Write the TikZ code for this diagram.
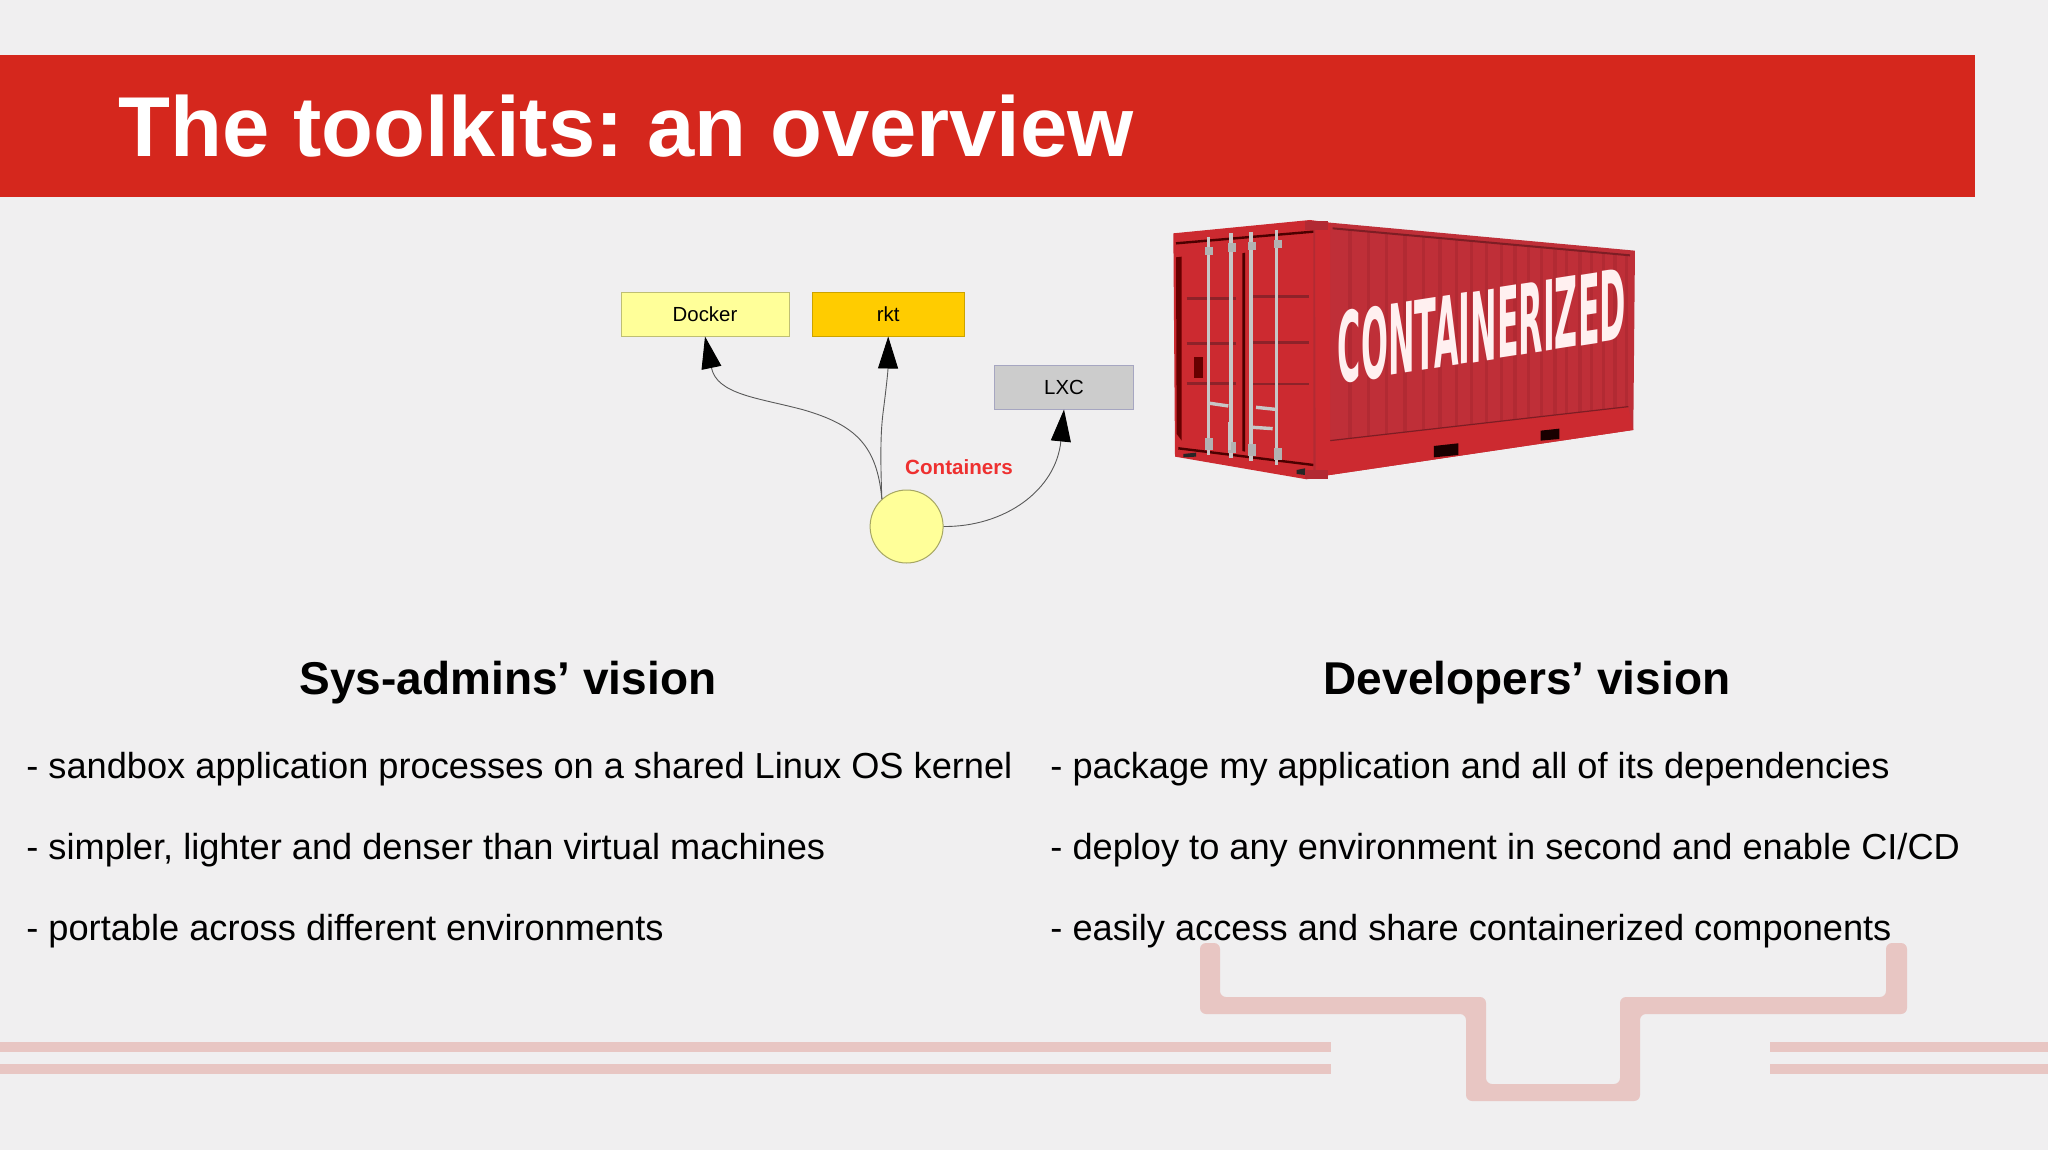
\documentclass[tikz,border=0pt]{standalone}
\usepackage{fontspec}
\setmainfont{Liberation Sans}
\usetikzlibrary{arrows.meta,positioning,shapes.geometric}
\definecolor{slidebg}{HTML}{F0EFF0}
\definecolor{banner}{HTML}{D5271D}
\definecolor{decor}{HTML}{E8C6C3}
\definecolor{boxyellow}{HTML}{FFFF99}
\definecolor{boxorange}{HTML}{FFCC00}
\definecolor{boxgrey}{HTML}{CCCCCC}
\definecolor{hubred}{HTML}{EE3030}
\definecolor{sidered}{HTML}{BF2F38}
\definecolor{frontred}{HTML}{CC2A30}
\definecolor{ribred}{HTML}{B22A33}
\tikzset{
	sysbox/.style={draw=#1, line width=0.5pt, inner sep=0pt, minimum height=22pt, font=\fontsize{10.2}{12}\selectfont},
	linkline/.style={draw=black!65, line width=0.45pt, -{Triangle[length=16pt,width=10pt,color=black]}},
	headline/.style={font=\fontsize{23}{27}\bfseries\selectfont, anchor=base},
	bulletline/.style={font=\fontsize{18.1}{21}\selectfont, anchor=base west, inner sep=0pt},
	rod/.style={draw=black!22, line width=1.7pt},
	rodclamp/.style={draw=black!30, line width=4pt},
	slot/.style={fill=black!90!red, draw=none},
}
\begin{document}
\begin{tikzpicture}[x=0.5pt, y=-0.5pt]
	\useasboundingbox (0,0) rectangle (2048,1150);
	\fill[slidebg] (0,0) rectangle (2048,1150);
	% top banner
	\fill[banner] (0,55) rectangle (1975,197);
	\node[font=\fontsize{42.5}{50}\bfseries\selectfont\frenchspacing, text=white, anchor=base west, inner sep=0pt] (title) at (118,157) {The toolkits: an overview};
	% footer lines
	\fill[decor] (0,1042) rectangle (1331,1052);
	\fill[decor] (0,1064) rectangle (1331,1074);
	\fill[decor] (1770,1042) rectangle (2048,1052);
	\fill[decor] (1770,1064) rectangle (2048,1074);
	\fill[decor, rounded corners=3pt] (1200,943) -- (1200,1014) -- (1466,1014) -- (1466,1101) -- (1640,1101) -- (1640,1014) -- (1907,1014) -- (1907,943) -- (1886,943) -- (1886,997) -- (1620,997) -- (1620,1084) -- (1486,1084) -- (1486,997) -- (1220,997) -- (1220,943) -- cycle;
	% diagram
	\node[sysbox=boxyellow!75!black, fill=boxyellow, minimum width=84pt] (docker) at (705,314) {Docker};
	\node[sysbox=boxorange!80!black, fill=boxorange, minimum width=76.2pt, right=11pt of docker] (rkt) {rkt};
	\node[sysbox=blue!30!black!35, fill=boxgrey, minimum width=69.6pt] (lxc) at (1064,387) {LXC};
	\node[circle, draw=boxyellow!65!black, line width=0.5pt, fill=boxyellow, inner sep=0pt, minimum size=36.5pt] (hub) at (906.6,526.5) {};
	\node[text=hubred, font=\fontsize{10.3}{13}\bfseries\selectfont] (hublabel) at (959,467) {Containers};
	\draw[linkline] (hub.132) .. controls (877,445) and (855,425) .. (804,410) .. controls (760,398) and (717,395) .. (docker.south);
	\draw[linkline] (hub.132) .. controls (880,450) and (881,430) .. (883,413) .. controls (885,398) and (888,372) .. (rkt.south);
	\draw[linkline] (hub.east) .. controls (1005,527) and (1056,490) .. (lxc.south);
	% container picture
	\begin{scope}[shift={(1150,200)}, scale=0.3333]
		\fill[sidered] (540,68) -- (1455,152) -- (1450,690) -- (540,825) -- cycle;
		\foreach \rx in {600,655,710,765,820,870,920,965,1010,1055,1095,1135,1175,1215,1250,1290,1325,1360,1395,1430} {
			\pgfmathsetmacro{\ytop}{83+(\rx-540)*0.092}
			\pgfmathsetmacro{\ybot}{722-(\rx-540)*0.114}
			\draw[ribred, line width=1.7pt] (\rx,\ytop) -- (\rx,\ybot);
		}
		\draw[ribred!70!black, line width=1pt] (548,85) -- (1440,166);
		\fill[frontred] (540,722) -- (1435,620) -- (1450,690) -- (540,825) -- cycle;
		\draw[ribred!70!black, line width=0.6pt] (540,722) -- (1435,620);
		\fill[slot] (852,738) -- (925,730) -- (925,765) -- (852,772) -- cycle;
		\fill[slot] (1172,692) -- (1228,686) -- (1228,717) -- (1172,722) -- cycle;
		\fill[frontred] (70,100) -- (480,60) -- (540,68) -- (540,825) -- (470,838) -- (75,770) -- cycle;
		\fill[ribred] (495,85) -- (497,810) -- (490,810) -- (490,88) -- cycle;
		\draw[black!70!red, line width=1.2pt] (78,130) -- (490,95);
		\draw[black!70!red, line width=1.2pt] (85,745) -- (490,795);
		\fill[black!60!red] (78,172) -- (95,170) -- (95,722) -- (80,702) -- cycle;
		\fill[black!70!red] (277,160) -- (285,158) -- (285,755) -- (277,753) -- cycle;
		\foreach \ya/\yb in {295/290,430/428,550/552} {
			\draw[ribred!80!black, line width=1.2pt] (110,\ya) -- (258,\ya);
			\draw[ribred!80!black, line width=1.2pt] (310,\yb) -- (478,\yb);
		}
		\fill[black!60!red] (133,470) rectangle (160,535);
		\foreach \rx/\ya/\yb in {175/110/765,243/100/775,303/95/782,380/90/795} {
			\draw[rod] (\rx,\ya) -- (\rx,\yb);
			\draw[rodclamp] (\rx+3,\ya+30) -- (\rx+3,\ya+55);
			\draw[rodclamp] (\rx+3,\yb-50) -- (\rx+3,\yb-15);
		}
		\draw[rod] (180,610) -- (235,618);
		\draw[rod] (318,622) -- (375,628);
		\draw[rod] (308,682) -- (368,686);
		\draw[rod] (238,665) -- (238,750);
		\fill[black!85] (100,762) -- (138,758) -- (138,770) -- (100,772) -- cycle;
		\fill[black!85] (440,810) -- (465,805) -- (465,825) -- (440,822) -- cycle;
		\fill[ribred] (465,62) rectangle (535,90);
		\fill[ribred] (465,810) rectangle (535,838);
	\end{scope}
	\begin{scope}[shift={(1482,326)}, cm={1,0.156,0,1,(0,0)}]
		\node[inner sep=0pt, text=red!6!white, transform shape, font=\fontspec{DejaVu Sans}] (stencil) at (0,0) {\resizebox{144pt}{36pt}{\bfseries CONTAINERIZED}};
	\end{scope}
	% two columns of text
	\node[headline] (sysadmins) at (508,694) {Sys-admins’ vision};
	\node[headline] (developers) at (1527,694) {Developers’ vision};
	\node[bulletline] (sysa) at (26,778) {- sandbox application processes on a shared Linux OS kernel};
	\node[bulletline, below=40.5pt of sysa.base west, anchor=base west] (sysb) {- simpler, lighter and denser than virtual machines};
	\node[bulletline, below=40.5pt of sysb.base west, anchor=base west] (sysc) {- portable across different environments};
	\node[bulletline] (deva) at (1050,778) {- package my application and all of its dependencies};
	\node[bulletline, below=40.5pt of deva.base west, anchor=base west] (devb) {- deploy to any environment in second and enable CI/CD};
	\node[bulletline, below=40.5pt of devb.base west, anchor=base west] (devc) {- easily access and share containerized components};
\end{tikzpicture}
\end{document}
